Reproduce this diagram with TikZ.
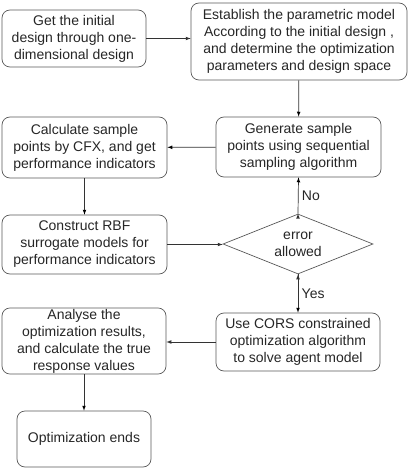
\documentclass[tikz,border=0pt]{standalone}
\usepackage{fontspec}
\setmainfont{Liberation Sans}
\usetikzlibrary{arrows,shapes.geometric}

\tikzset{
    box/.style={draw=black!65, rounded corners=8pt, align=center, inner sep=1pt, text=black!85, font=\fontsize{14}{17}\selectfont},
    test/.style={diamond, draw=black!65, aspect=2.5, inner sep=0pt, minimum width=150pt, minimum height=60pt, align=center, text=black!85, font=\fontsize{14}{17}\selectfont},
    flow/.style={->, draw=black!80}
}

\begin{document}
\begin{tikzpicture}[auto, x=1pt, y=-1pt, >=latex, line width=0.7pt]
    \useasboundingbox (0,0) rectangle (410,470);
        \node[box, minimum width=144pt, minimum height=57pt] (init) at (74,38.5) {Get the initial\\design through one-\\dimensional design};
        \node[box, minimum width=216pt, minimum height=77pt] (param) at (299,41.5) {Establish the parametric model\\According to the initial design ,\\and determine the optimization\\parameters and design space};
        \node[box, minimum width=165pt, minimum height=60pt] (sample) at (298.5,147) {Generate sample\\points using sequential\\sampling algorithm};
        \node[box, minimum width=165pt, minimum height=61pt] (cfx) at (84.5,147.5) {Calculate sample\\points by CFX, and get\\performance indicators};
        \node[box, minimum width=165pt, minimum height=59pt] (rbf) at (84.5,244.5) {Construct RBF\\surrogate models for\\performance indicators};
        \node[test] (err) at (298,244) {error\\allowed};
        \node[box, minimum width=164pt, minimum height=58pt] (cors) at (298,342) {Use CORS constrained\\optimization algorithm\\to solve agent model};
        \node[box, minimum width=164pt, minimum height=66pt] (result) at (84,341) {Analyse the\\optimization results,\\and calculate the true\\response values};
        \node[box, minimum width=134pt, minimum height=56pt] (ends) at (84,439) {Optimization ends};
        \path[flow] (init.east) -- (init.east -| param.west);
        \path[flow] (param) edge (sample);
        \path[flow] (sample) edge (cfx);
        \path[flow] (cfx) edge (rbf);
        \path[flow] (rbf.east) -- (rbf.east -| err.west);
        \path[flow] (err.north) edge node[anchor=west, text=black!85, font=\fontsize{14}{17}\selectfont] {No} (sample.south);
        \path[flow] (err.south) edge node[anchor=west, text=black!85, font=\fontsize{14}{17}\selectfont] {Yes} (cors.north);
        \path[flow] (cors.west) -- (cors.west -| result.east);
        \path[flow] (result) edge (ends);
    \end{tikzpicture}
\end{document}
